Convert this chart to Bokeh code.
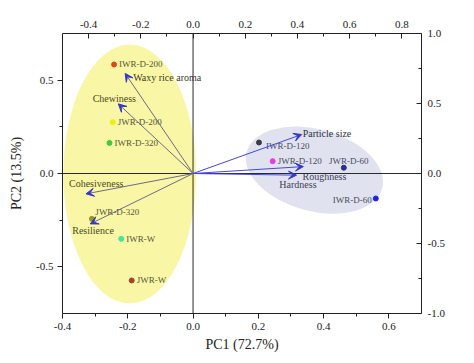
from bokeh.plotting import figure
from bokeh.models import (ColumnDataSource, Range1d, LinearAxis, FixedTicker,
                          NumeralTickFormatter, Span, Arrow, VeeHead)
from bokeh.core.properties import value
from bokeh.embed import file_html
from bokeh.resources import INLINE

# ---------------- data ----------------
samples = ["IWR-D-200", "JWR-D-200", "IWR-D-320", "JWR-D-320", "IWR-W", "JWR-W",
           "IWR-D-120", "JWR-D-120", "JWR-D-60", "IWR-D-60"]
pc1 = [-0.242, -0.246, -0.256, -0.310, -0.220, -0.188, 0.202, 0.244, 0.462, 0.560]
pc2 = [0.584, 0.275, 0.164, -0.243, -0.350, -0.573, 0.166, 0.066, 0.031, -0.134]

variables = ["Waxy rice aroma", "Chewiness", "Cohesiveness", "Resilience",
             "Particle size", "Hardness", "Roughness"]
load1 = [-0.208, -0.229, -0.328, -0.315, 0.333, 0.338, 0.317]
load2 = [0.536, 0.373, -0.109, -0.270, 0.209, 0.037, -0.009]

# confidence ellipses (center x, center y, width, height, angle deg)
ell_cx = [-0.194, 0.372]
ell_cy = [-0.003, 0.018]
ell_w = [0.407, 0.43]
ell_h = [1.387, 0.44]
ell_angle = [0.0, -15.0]

x_title = "PC1 (72.7%)"
y_title = "PC2 (13.5%)"

# ---------------- styles ----------------
FONT = "Liberation Serif"
sample_colors = ["#e2441c", "#eeee10", "#3dcc3d", "#9a9a10", "#3de8a0", "#a4442c",
                 "#3c3c48", "#e040e0", "#2e2e88", "#2020f0"]
sample_dx = [5, 5, 5, 3.5, 5, 5, 7, 5, 5, -4]
sample_dy = [0, 0, 0, -6.5, 0, 0, 3, 0, -7, 1]
sample_align = ["left"] * 8 + ["center", "right"]
sample_tcolor = ["#55553a"] * 6 + ["#4a4a5a"] * 4

var_dx = [8, -4, -17, -18, 1, -24, 6]
var_dy = [4, -5, -10, 7, -1, 18, 1]
var_align = ["left", "center", "left", "left", "left", "left", "left"]
var_tcolor = ["#3a3a28", "#4a4a20", "#4a4a20", "#4a4a20", "#303040", "#40405a", "#40405a"]
var_lcolor = ["#6a6a88"] * 4 + ["#4646e6"] * 3

ell_colors = ["#f9f7a6", "#e0e3ef"]

p = figure(width=472, height=360, x_range=Range1d(-0.4, 0.7), y_range=Range1d(-0.75, 0.75),
           output_backend="svg", toolbar_location=None,
           min_border_left=62, min_border_top=33, min_border_right=51, min_border_bottom=47)
p.grid.visible = False
p.outline_line_color = None
p.background_fill_color = "white"

# ellipses
esrc = ColumnDataSource(dict(x=ell_cx, y=ell_cy, w=ell_w, h=ell_h,
                             a=[v * 3.14159265 / 180 for v in ell_angle], c=ell_colors))
p.ellipse(x="x", y="y", width="w", height="h", angle="a", fill_color="c",
          line_color=None, source=esrc)

# zero lines
p.add_layout(Span(location=0, dimension="height", line_color="#2a2a2a", line_width=1))
p.add_layout(Span(location=0, dimension="width", line_color="#2a2a2a", line_width=1))

# loading arrows
asrc = ColumnDataSource(dict(x0=[0] * len(load1), y0=[0] * len(load1), x1=load1, y1=load2,
                             lc=var_lcolor))
p.add_layout(Arrow(x_start="x0", y_start="y0", x_end="x1", y_end="y1", source=asrc,
                   line_color="lc", line_width=1,
                   end=VeeHead(size=8, fill_color="#3535cc", line_color="#3535cc",
                               line_width=1)))

# sample points
ssrc = ColumnDataSource(dict(x=pc1, y=pc2, c=sample_colors, t=samples, dx=sample_dx,
                             dy=sample_dy, al=sample_align, tc=sample_tcolor))
p.scatter(x="x", y="y", size=5, fill_color="c", line_color="c", source=ssrc)
p.text(x="x", y="y", text="t", x_offset="dx", y_offset="dy", text_align="al",
       text_baseline="middle", text_color="tc", text_font=value(FONT),
       text_font_size="9px", source=ssrc)

vsrc = ColumnDataSource(dict(x=load1, y=load2, t=variables, dx=var_dx, dy=var_dy,
                             al=var_align, tc=var_tcolor))
p.text(x="x", y="y", text="t", x_offset="dx", y_offset="dy", text_align="al",
       text_baseline="middle", text_color="tc", text_font=value(FONT),
       text_font_size="10px", source=vsrc)

# axes
p.extra_x_ranges = {"top": Range1d(-0.5, 0.875)}
p.extra_y_ranges = {"right": Range1d(-1.0, 1.0)}

xb = p.xaxis[0]
xb.ticker = FixedTicker(ticks=[-0.4, -0.2, 0.0, 0.2, 0.4, 0.6],
                        minor_ticks=[-0.3, -0.1, 0.1, 0.3, 0.5])
yl = p.yaxis[0]
yl.ticker = FixedTicker(ticks=[-0.5, 0.0, 0.5], minor_ticks=[-0.25, 0.25])
xt = LinearAxis(x_range_name="top",
                ticker=FixedTicker(ticks=[-0.4, -0.2, 0.0, 0.2, 0.4, 0.6, 0.8],
                                   minor_ticks=[-0.3, -0.1, 0.1, 0.3, 0.5, 0.7]))
yr = LinearAxis(y_range_name="right",
                ticker=FixedTicker(ticks=[-1.0, -0.5, 0.0, 0.5, 1.0],
                                   minor_ticks=[-0.75, -0.25, 0.25, 0.75]))
p.add_layout(xt, "above")
p.add_layout(yr, "right")

for ax in (xb, yl, xt, yr):
    ax.formatter = NumeralTickFormatter(format="0.0")
    ax.axis_line_color = "#222222"
    ax.major_tick_line_color = "#222222"
    ax.minor_tick_line_color = "#222222"
    ax.major_label_text_font = FONT
    ax.major_label_text_font_size = "11px"
    ax.major_label_text_color = "#222222"
    ax.axis_label_text_font = FONT
    ax.axis_label_text_font_size = "14px"
    ax.axis_label_text_font_style = "normal"
    ax.axis_label_text_color = "#222222"

for ax in (xb, yl):
    ax.major_tick_out = 5
    ax.major_tick_in = 0
    ax.minor_tick_out = 3
    ax.minor_tick_in = 0
    ax.major_label_standoff = 4
for ax in (xt, yr):
    ax.major_tick_out = 0
    ax.major_tick_in = 5
    ax.minor_tick_out = 0
    ax.minor_tick_in = 3
    ax.major_label_standoff = 6

xb.axis_label = x_title
xb.axis_label_standoff = 4
yl.axis_label = y_title
yl.axis_label_standoff = 9

open("out.html", "w").write(file_html(p, INLINE))
